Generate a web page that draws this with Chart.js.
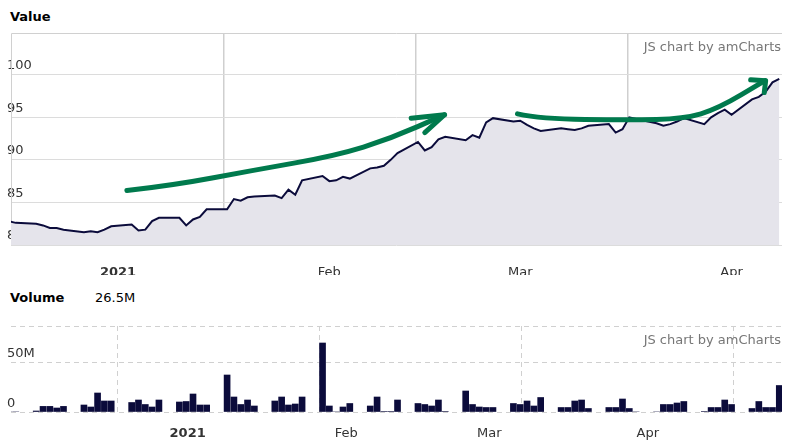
<!DOCTYPE html>
<html><head><meta charset="utf-8">
<script src="https://cdn.jsdelivr.net/npm/chart.js@4"></script>
<style>
body{margin:0;background:#fff;width:792px;height:442px;overflow:hidden;font-family:"DejaVu Sans",sans-serif}
canvas{position:absolute;left:0}
.t{position:absolute;font-size:13px;color:#000}
</style></head><body>
<div class="t" style="left:10px;top:9px;font-weight:bold">Value</div>
<div class="t" style="left:10px;top:290px;font-weight:bold">Volume</div>
<div class="t" style="left:95px;top:290px">26.5M</div>
<canvas id="c1" width="792" height="275" style="top:0;width:792px;height:275px"></canvas>
<canvas id="c2" width="792" height="162" style="top:280px;width:792px;height:162px"></canvas>
<script>
// trading days (offset from 2021-01-01)
const days = [-16,-15,-12,-11,-10,-9,-8,-5,-4,-3,-2,-1,2,3,4,5,6,9,10,11,12,13,16,17,18,19,20,23,24,25,26,27,30,31,32,33,34,37,38,39,40,41,44,45,46,47,48,51,52,53,54,55,58,59,60,61,62,65,66,67,68,69,72,73,74,75,76,79,80,81,82,83,86,87,88,89,90,93,94,95,96,97];
const prices = [82.8,82.6,82.5,82.3,82.0,82.0,81.8,81.5,81.6,81.5,81.8,82.2,82.4,81.7,81.8,82.8,83.2,83.2,82.3,83.0,83.3,84.2,84.2,85.4,85.2,85.6,85.7,85.8,85.5,86.5,85.9,87.6,88.1,87.5,87.6,88.0,87.8,89.0,89.1,89.3,90.0,90.8,92.1,91.1,91.5,92.4,92.7,92.3,92.9,92.6,94.4,94.9,94.5,94.6,94.1,93.7,93.4,93.7,93.6,93.5,93.7,94.0,94.2,93.2,93.6,95.0,94.8,94.3,94.0,94.2,94.5,94.9,94.2,95.0,95.5,95.9,95.3,97.1,97.4,98.0,99.1,99.5];
const volumes = [0,0,1,5.6,5.6,4,5.6,7,5,19,11,11,9.5,12,7.5,5,12,10,10.5,18,7,7,37,15,7.5,12,6,11,15,7,8,15,69,6,0,5,8.5,6,15,0.5,0.5,12,8.5,7.5,6,12,0.5,21,7.5,5,4.5,4.5,8.5,7.5,11,6,14.5,4.5,4.5,11,12,3.5,4.5,4.5,13,3.5,0,0,7.5,7.5,9,10.5,0.5,4.5,4.5,12,7.5,3.5,10.5,4.5,4.5,26.5];
const monthTicks = [0,31,59,90];
const monthLabels = ['2021','Feb','Mar','Apr'];
const gridDays = [15.5,43.7,74.8];
const priceTicks = [80,85,90,95,100];
// hand-drawn annotation strokes, in (day, value) coordinates
const arrow1 = [[1.3,86.4],[8,87],[20,88.8],[32,90.5],[40,92.5],[47.9,95.3]];
const arrow1Head = [[43,94.9],[47.9,95.3],[45,93.2]];
const arrow2 = [[58.6,95.4],[62,94.8],[75,94.7],[83,94.8],[88,96],[94.9,99.3]];
const arrow2Head = [[94.8,97.9],[95,99.3],[92.8,99.4]];

const X0=-15.7, X1=97.4;
const wm = {id:'wm',afterDraw(c){const ctx=c.ctx;ctx.save();ctx.font='13px "DejaVu Sans"';ctx.fillStyle='#777';ctx.textAlign='right';ctx.fillText('JS chart by amCharts',781,c.chartArea.top+18);ctx.restore();}};
const box = {id:'box',beforeDatasetsDraw(c){const a=c.chartArea,ctx=c.ctx;ctx.save();ctx.strokeStyle='#d0d0d0';ctx.lineWidth=1;ctx.beginPath();ctx.moveTo(a.left+.5,a.bottom);ctx.lineTo(a.left+.5,a.top+.5);ctx.lineTo(a.right,a.top+.5);ctx.stroke();ctx.restore();}};
const arrows = {id:'arrows',afterDraw(c){const x=c.scales.x,y=c.scales.y,ctx=c.ctx;ctx.save();ctx.strokeStyle='#007a4d';ctx.lineWidth=5;ctx.lineCap='round';ctx.lineJoin='round';
 const path=(pts,smooth)=>{ctx.beginPath();pts.forEach((p,i)=>{const px=x.getPixelForValue(p[0]),py=y.getPixelForValue(p[1]);if(i==0)ctx.moveTo(px,py);else if(smooth&&i<pts.length-1){const q=pts[i+1];const mx=(px+x.getPixelForValue(q[0]))/2,my=(py+y.getPixelForValue(q[1]))/2;ctx.quadraticCurveTo(px,py,mx,my);}else ctx.lineTo(px,py);});ctx.stroke();};
 path(arrow1,true);path(arrow1Head,false);path(arrow2,true);path(arrow2Head,false);ctx.restore();}};

function setTicks(vals){return s=>{s.ticks=vals.map(v=>({value:v}));};}

new Chart(document.getElementById('c1'),{
 type:'line',
 data:{datasets:[{data:days.map((d,i)=>({x:d,y:prices[i]})),borderColor:'#0b0b3b',borderWidth:2,backgroundColor:'#e5e4eb',fill:'start',pointRadius:0,tension:0}]},
 options:{responsive:false,animation:false,devicePixelRatio:1,
  layout:{padding:{left:11,right:10,top:33,bottom:0}},
  plugins:{legend:{display:false},tooltip:{enabled:false}},
  scales:{
   x:{type:'linear',min:X0,max:X1,position:'bottom',afterBuildTicks:setTicks(gridDays),ticks:{display:false},grid:{color:'#cfcfcf',lineWidth:1.5,drawTicks:false},border:{display:false},afterFit(s){s.height=0;}},
   xl:{type:'linear',min:X0,max:X1,position:'bottom',afterBuildTicks:setTicks(monthTicks),grid:{display:false},border:{display:false},
     ticks:{padding:12,color:'#333',font:c=>({family:'"DejaVu Sans"',size:13,weight:c.index===0?'bold':'normal'}),callback:(v,i)=>monthLabels[i]},afterFit(s){s.height=30;}},
   y:{min:80,max:104.9,afterBuildTicks:setTicks(priceTicks),border:{display:false},grid:{color:'#dcdcdc',drawTicks:false},
     ticks:{mirror:true,padding:-4,labelOffset:-9,color:'#333',font:{family:'"DejaVu Sans"',size:13}},afterFit(s){s.width=0;}}
  }},
 plugins:[box,wm,arrows]
});

new Chart(document.getElementById('c2'),{
 type:'bar',
 data:{datasets:[{data:days.map((d,i)=>({x:d,y:volumes[i]})),backgroundColor:'#0b0b3b',barThickness:6}]},
 options:{responsive:false,animation:false,devicePixelRatio:1,
  layout:{padding:{left:11,right:10,top:46,bottom:0}},
  plugins:{legend:{display:false},tooltip:{enabled:false}},
  scales:{
   x:{type:'linear',min:X0,max:X1,offset:false,afterBuildTicks:setTicks([X0].concat(gridDays)),ticks:{display:false},grid:{color:'#d0d0d0',drawTicks:false},border:{display:false,dash:[5,4]},afterFit(s){s.height=0;}},
   xl:{type:'linear',min:X0,max:X1,position:'bottom',afterBuildTicks:setTicks(monthTicks),grid:{display:false},border:{display:false},
     ticks:{padding:6,color:'#333',font:c=>({family:'"DejaVu Sans"',size:13,weight:c.index===0?'bold':'normal'}),callback:(v,i)=>monthLabels[i]},afterFit(s){s.height=30;}},
   y:{min:0,max:86,afterBuildTicks:setTicks([0,50,86]),border:{display:false,dash:[5,4]},grid:{color:'#d0d0d0',drawTicks:false},
     ticks:{mirror:true,padding:-4,labelOffset:-8,color:'#333',font:{family:'"DejaVu Sans"',size:13},callback:v=>v===0?'0':v===50?'50M':''},afterFit(s){s.width=0;}}
  }},
 plugins:[wm]
});
</script></body></html>
